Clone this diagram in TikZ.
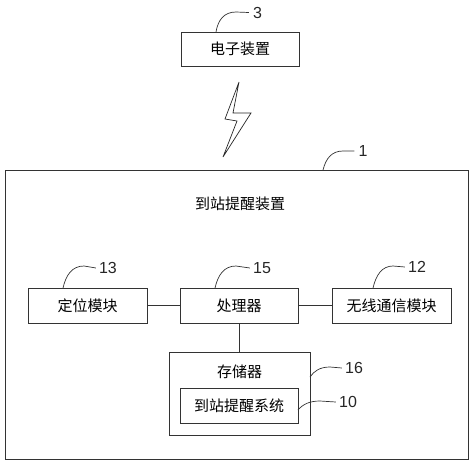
\documentclass[tikz,border=0pt]{standalone}
\usepackage{fontspec}
\newfontfamily\cjk{Noto Sans CJK SC}
\newfontfamily\numfont{Liberation Sans}
\begin{document}
\begin{tikzpicture}[x=1pt,y=-1pt,
  ln/.style={line width=0.8pt,draw=black!80},
  box/.style={ln,rectangle,inner sep=0pt,font=\cjk\fontsize{15}{17}\selectfont},
  lbl/.style={inner sep=0pt,font=\numfont\fontsize{16}{18}\selectfont,text=black!85},
  lead/.style={line width=0.7pt,draw=black!80}]
\useasboundingbox (0,0) rectangle (474,464);
% outer device
\node[box,minimum width=463pt,minimum height=289pt] (outer) at (236.5,314.5) {};
\node[inner sep=0pt,font=\cjk\fontsize{15}{17}\selectfont] (title) at (240,204) {到站提醒装置};
% electronic device
\node[box,minimum width=118pt,minimum height=34pt] (dev) at (240,49) {电子装置};
% inner boxes
\node[box,minimum width=119pt,minimum height=35pt] (loc) at (87.5,305.5) {定位模块};
\node[box,minimum width=118pt,minimum height=35pt] (cpu) at (239,305.5) {处理器};
\node[box,minimum width=119pt,minimum height=35pt] (wifi) at (391.5,305.5) {无线通信模块};
\node[box,minimum width=141pt,minimum height=83pt] (mem) at (239.5,393.5) {};
\node[inner sep=0pt,font=\cjk\fontsize{15}{17}\selectfont] (memt) at (239.5,372) {存储器};
\node[box,minimum width=118pt,minimum height=35pt] (sys) at (239,405.5) {到站提醒系统};
% connectors
\draw[ln] (loc.east) -- (cpu.west);
\draw[ln] (cpu.east) -- (wifi.west);
\draw[ln] (cpu.south) -- (cpu.south |- mem.north);
% lightning
\draw[line width=0.7pt,draw=black!85,line join=miter] (239,82) -- (225,119) -- (237,121) -- (223,157) -- (251,113) -- (233,113) -- cycle;
% labels
\node[lbl] (l3) at (257.5,12.5) {3};
\node[lbl] (l1) at (363,151) {1};
\node[lbl] (l13) at (108,268) {13};
\node[lbl] (l15) at (262,268) {15};
\node[lbl] (l12) at (417,267) {12};
\node[lbl] (l16) at (354,368) {16};
\node[lbl] (l10) at (348,402) {10};
% leaders
\coordinate (s3) at (216,32);
\coordinate (s1) at (323,170);
\coordinate (s13) at (63,288);
\coordinate (s15) at (215,288);
\coordinate (s12) at (373,288);
\coordinate (s16) at (310,377);
\coordinate (s10) at (298,410);
\draw[lead] (s3) .. controls (218,20) and (224,12) .. (236,12) -- ([xshift=-4pt]l3.west);
\draw[lead] (s1) .. controls (326,158) and (332,151) .. (343,151) -- ([xshift=-4pt]l1.west);
\draw[lead] (s13) .. controls (66,275) and (72,266) .. (84,266) -- ([xshift=-3pt]l13.west);
\draw[lead] (s15) .. controls (218,275) and (224,266) .. (236,266) -- ([xshift=-3pt]l15.west);
\draw[lead] (s12) .. controls (376,275) and (382,266) .. (393,266) -- ([xshift=-3pt]l12.west);
\draw[lead] (s16) .. controls (314,371) and (320,367) .. (330,367) -- ([xshift=-3pt]l16.west);
\draw[lead] (s10) .. controls (303,404) and (310,401) .. (320,401) -- ([xshift=-3pt]l10.west);
\end{tikzpicture}
\end{document}
